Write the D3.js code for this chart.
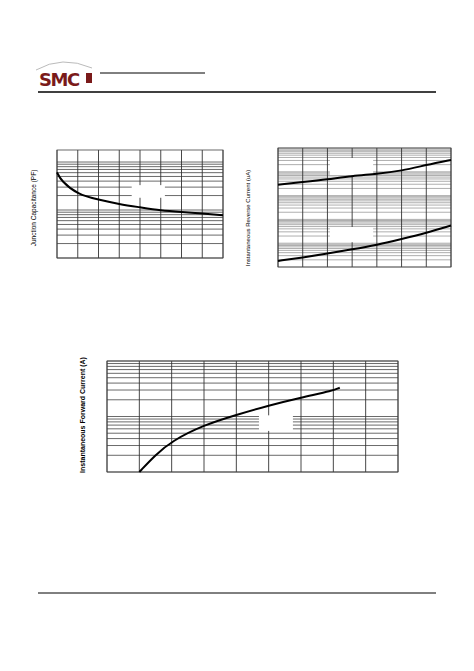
<!DOCTYPE html>
<html><head><meta charset="utf-8">
<script src="https://cdn.jsdelivr.net/npm/d3@7"></script>
<style>body{margin:0;background:#fff}</style></head>
<body><svg id="c" width="474" height="671"></svg>
<script>
// Chart 1: junction capacitance vs reverse voltage
const capV = [0, 0.2, 1, 2, 3, 4, 5, 6, 7, 8];
const capPF = [610, 405, 210, 164, 132, 114, 98, 91, 85, 78];
// Chart 2: reverse current vs percent of rated voltage (two temperatures)
const revPct = [0, 20, 40, 60, 80, 100, 120, 140];
const revHigh = [28.6, 37, 48, 67, 81, 110, 194, 316];
const revLow = [0.018, 0.025, 0.037, 0.055, 0.085, 0.149, 0.27, 0.55];
// Chart 3: forward current vs forward voltage
const fwdV = [0.2, 0.297, 0.4, 0.6, 0.8, 1.0, 1.2, 1.4, 1.44];
const fwdA = [0.1, 0.2, 0.361, 0.705, 1.07, 1.58, 2.2, 2.93, 3.3];

const svg = d3.select("#c");
svg.append("rect").attr("width",474).attr("height",671).attr("fill","#fff");

// header
svg.append("path").attr("d","M36,70 Q62,55 92,68").attr("fill","none").attr("stroke","#bbb").attr("stroke-width",1);
svg.append("text").attr("x",39).attr("y",86).attr("font-family","DejaVu Sans, Arial").attr("font-weight","bold")
  .attr("font-size",18).attr("letter-spacing",-1.5).attr("fill","#7a1a1a").text("SMC");
svg.append("rect").attr("x",86).attr("y",73).attr("width",6).attr("height",10).attr("fill","#7a1a1a");
svg.append("line").attr("x1",100).attr("x2",205).attr("y1",73).attr("y2",73).attr("stroke","#000").attr("stroke-width",1);
svg.append("line").attr("x1",38).attr("x2",436).attr("y1",92).attr("y2",92).attr("stroke","#000").attr("stroke-width",1.5);
svg.append("line").attr("x1",38).attr("x2",436).attr("y1",593).attr("y2",593).attr("stroke","#000").attr("stroke-width",1);

function logLines(dom){
  const out=[]; let d=Math.pow(10,Math.floor(Math.log10(dom[0])));
  for(;d<dom[1]*1.0001;d*=10) for(let k=1;k<10;k++){const v=k*d; if(v>=dom[0]*0.9999&&v<=dom[1]*1.0001) out.push(v);}
  return out;
}
function chart(o){
  const g=svg.append("g");
  const x=d3.scaleLinear().domain(o.xd).range([o.x0,o.x1]);
  const y=d3.scaleLog().domain(o.yd).range([o.y1,o.y0]);
  logLines(o.yd).forEach(v=>g.append("line").attr("x1",o.x0).attr("x2",o.x1).attr("y1",y(v)).attr("y2",y(v))
    .attr("stroke",o.hc).attr("stroke-width",0.8));
  d3.range(o.xd[0],o.xd[1]+o.xs/2,o.xs).forEach(v=>g.append("line").attr("x1",x(v)).attr("x2",x(v)).attr("y1",o.y0).attr("y2",o.y1)
    .attr("stroke","#333").attr("stroke-width",0.9));
  g.append("rect").attr("x",o.x0).attr("y",o.y0).attr("width",o.x1-o.x0).attr("height",o.y1-o.y0).attr("fill","none").attr("stroke","#444").attr("stroke-width",0.8);
  (o.boxes||[]).forEach(b=>g.append("rect").attr("x",x(b[0])).attr("y",y(b[3])).attr("width",x(b[1])-x(b[0])).attr("height",y(b[2])-y(b[3])).attr("fill","#fff"));
  const line=d3.line().curve(d3.curveBasis).x(d=>x(d[0])).y(d=>y(d[1]));
  o.series.forEach(s=>g.append("path").attr("d",line(o.xv.map((v,i)=>[v,s[i]]))).attr("fill","none").attr("stroke","#000").attr("stroke-width",2));
  g.append("text").attr("transform",`translate(${o.lx},${o.ly}) rotate(-90)`).attr("text-anchor","middle")
    .attr("font-family","Liberation Sans, Arial").attr("font-size",o.lf).attr("font-weight",o.lw||"normal").text(o.label);
}
chart({x0:57,x1:223,y0:150,y1:258,xd:[0,8],xs:1,yd:[10,1780],hc:"#444",xv:capV,series:[capPF],
  boxes:[[3.6,5.2,180,330]],label:"Junction Capacitance (PF)",lx:36,ly:208,lf:6.5});
chart({x0:278,x1:451,y0:148,y1:267,xd:[0,140],xs:20,yd:[0.01,1000],hc:"#999",xv:revPct,series:[revHigh,revLow],
  boxes:[[42,77,73,380],[42,77,0.11,0.48]],label:"Instantaneous Reverse Current (uA)",lx:250,ly:218,lf:6});
chart({x0:107,x1:398,y0:361,y1:472,xd:[0,1.8],xs:0.2,yd:[0.1,10],hc:"#444",xv:fwdV,series:[fwdA],
  boxes:[[0.94,1.15,0.55,1.05]],label:"Instantaneous Forward Current (A)",lx:85,ly:415,lf:7,lw:"bold"});
</script></body></html>
